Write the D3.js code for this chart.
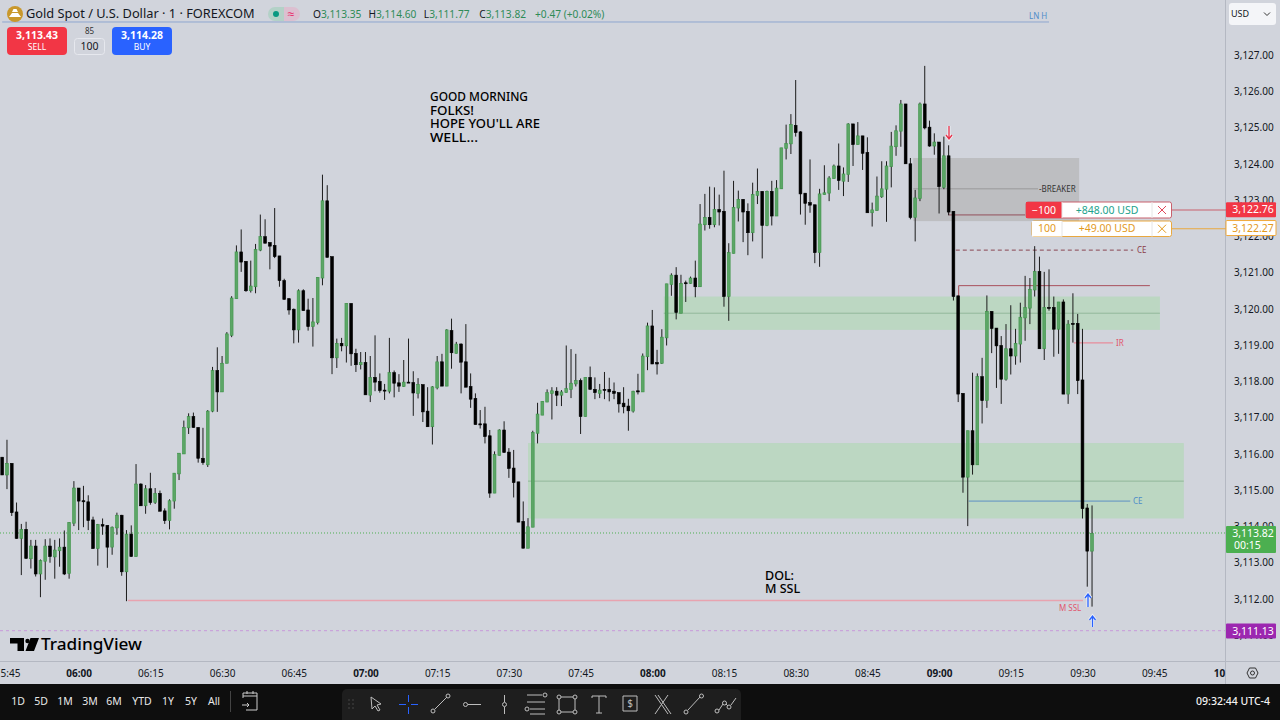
<!DOCTYPE html>
<html>
<head>
<meta charset="utf-8">
<script src="https://cdn.jsdelivr.net/npm/d3@7"></script>
<style>
  html, body { margin: 0; padding: 0; background: #d1d4dc; overflow: hidden; }
  svg { display: block; font-family: "Noto Sans", sans-serif; }
</style>
</head>
<body>
<svg id="chart" width="1280" height="720"></svg>
<script>
// 1 minute candles, first one is 05:44, last one 09:32
const opens = [
  3115.91,3115.42,3115.74,3114.40,3113.67,3113.92,3113.11,3113.46,3112.69,3113.04,
  3113.46,3113.16,3113.33,3113.43,3112.70,3114.09,3115.06,3114.71,3114.68,3114.18,
  3113.39,3114.05,3114.03,3113.43,3113.96,3114.31,3112.75,3113.79,3113.17,3115.17,
  3114.57,3115.04,3114.66,3114.91,3114.43,3114.16,3114.70,3115.45,3116.00,3116.72,
  3117.03,3116.73,3115.88,3115.70,3117.18,3118.30,3117.71,3118.50,3119.27,3120.28,
  3121.57,3121.31,3120.50,3120.61,3121.62,3121.99,3121.83,3121.75,3121.46,3120.78,
  3120.28,3119.99,3119.42,3120.50,3119.97,3119.51,3119.62,3120.85,3122.98,3121.44,
  3118.65,3119.05,3118.98,3120.15,3118.77,3118.46,3118.52,3117.62,3118.11,3118.00,
  3117.76,3117.73,3118.24,3117.96,3117.86,3117.98,3117.97,3117.67,3117.91,3117.18,
  3116.75,3117.82,3118.54,3117.87,3119.40,3118.77,3119.03,3118.54,3117.86,3117.53,
  3116.83,3116.83,3116.50,3114.92,3115.96,3116.66,3116.05,3115.61,3115.23,3114.14,
  3113.40,3113.98,3116.57,3117.07,3117.43,3117.67,3117.73,3117.62,3117.69,3117.78,
  3117.93,3118.02,3117.03,3118.11,3117.78,3117.67,3117.78,3117.78,3117.73,3117.69,
  3117.40,3117.32,3117.18,3117.74,3117.71,3118.68,3119.53,3118.52,3118.50,3119.20,
  3120.67,3120.93,3119.88,3120.72,3120.70,3120.85,3120.61,3122.32,3122.52,3122.32,
  3122.74,3122.69,3120.34,3121.53,3122.78,3123.02,3122.69,3122.10,3123.13,3123.24,
  3122.30,3123.24,3122.56,3123.31,3124.42,3124.55,3125.06,3124.88,3123.19,3122.93,
  3122.87,3121.55,3123.15,3123.19,3123.59,3123.94,3123.52,3123.70,3125.10,3124.53,
  3124.77,3124.31,3122.65,3122.71,3123.09,3123.30,3123.92,3124.47,3124.90,3125.65,
  3124.00,3122.52,3123.04,3125.65,3125.01,3124.49,3124.60,3123.35,3124.22,3122.69,
  3120.36,3117.67,3115.36,3116.64,3115.70,3118.13,3117.47,3119.93,3119.47,3118.99,
  3118.06,3118.90,3118.70,3119.03,3119.75,3120.02,3120.52,3121.03,3118.90,3120.04,
  3120.04,3119.44,3120.19,3117.65,3119.60,3119.60,3118.04,3114.51,3113.32
];
const highs = [
  3115.91,3116.39,3115.74,3114.66,3114.07,3114.13,3113.63,3113.63,3113.09,3113.65,
  3113.67,3113.63,3113.67,3113.89,3114.12,3115.25,3115.06,3115.12,3114.86,3114.27,
  3114.07,3114.22,3114.03,3114.00,3114.38,3114.32,3113.90,3114.03,3115.72,3115.19,
  3115.14,3115.48,3115.06,3114.99,3114.50,3114.75,3115.47,3116.02,3116.92,3117.12,
  3117.14,3116.73,3116.72,3117.21,3118.40,3118.94,3118.70,3119.36,3120.35,3121.75,
  3122.19,3121.31,3121.33,3121.79,3122.60,3122.47,3121.83,3122.78,3121.46,3120.83,
  3120.30,3120.01,3120.54,3120.54,3120.28,3120.30,3120.87,3123.70,3123.41,3121.44,
  3119.18,3119.20,3120.15,3120.15,3118.90,3118.81,3118.81,3118.70,3119.27,3118.22,
  3117.93,3119.20,3118.30,3118.20,3118.59,3119.18,3118.28,3118.09,3117.91,3117.84,
  3117.87,3118.70,3118.76,3119.44,3119.73,3119.09,3119.05,3119.58,3118.22,3117.67,
  3117.21,3117.30,3116.66,3116.07,3116.68,3116.90,3116.16,3116.11,3115.23,3114.69,
  3114.23,3116.64,3117.41,3117.45,3117.78,3117.84,3117.84,3117.76,3118.99,3118.89,
  3118.76,3118.08,3118.11,3118.41,3118.11,3117.93,3118.26,3118.10,3117.97,3117.69,
  3117.84,3117.52,3117.74,3118.21,3118.77,3119.62,3119.97,3118.87,3119.44,3120.69,
  3120.98,3121.15,3120.94,3120.78,3120.89,3121.33,3122.89,3123.17,3123.37,3123.35,
  3123.15,3123.81,3121.81,3123.53,3123.26,3123.02,3122.91,3123.48,3123.87,3123.24,
  3123.26,3123.53,3123.55,3124.44,3125.08,3125.37,3126.31,3124.90,3123.19,3124.12,
  3122.87,3123.31,3123.96,3123.66,3123.98,3124.56,3123.90,3125.12,3125.10,3125.15,
  3124.77,3124.73,3122.93,3123.65,3124.07,3124.07,3124.88,3125.06,3125.76,3125.65,
  3124.16,3123.28,3125.69,3126.70,3125.19,3124.84,3124.60,3124.75,3124.51,3122.69,
  3120.36,3117.67,3116.64,3118.24,3118.22,3118.65,3120.37,3119.93,3119.47,3119.25,
  3119.58,3120.10,3119.45,3120.17,3120.91,3120.85,3121.73,3121.44,3121.02,3121.09,
  3120.34,3120.19,3120.26,3119.69,3120.43,3119.86,3119.45,3114.62,3114.58
];
const lows = [
  3115.42,3115.03,3114.29,3113.66,3112.66,3113.11,3112.84,3112.62,3112.05,3112.53,
  3113.00,3112.56,3112.89,3112.66,3112.56,3114.01,3113.90,3113.98,3113.90,3113.39,
  3112.92,3113.77,3112.86,3113.22,3113.77,3112.64,3111.94,3113.17,3113.17,3114.57,
  3114.35,3114.60,3114.62,3114.42,3114.07,3113.92,3114.49,3115.28,3116.00,3116.55,
  3116.72,3115.76,3115.70,3115.64,3117.15,3117.16,3117.71,3118.50,3119.22,3120.28,
  3121.02,3120.47,3120.45,3120.43,3121.59,3121.81,3121.09,3121.40,3120.61,3120.26,
  3119.84,3119.05,3119.07,3119.95,3119.40,3118.96,3119.57,3120.65,3121.42,3118.20,
  3118.37,3118.83,3118.52,3118.43,3118.26,3118.33,3117.63,3117.43,3117.73,3117.69,
  3117.49,3117.67,3117.56,3117.71,3117.85,3117.97,3117.05,3117.53,3116.88,3116.75,
  3116.26,3117.78,3117.87,3117.87,3118.35,3118.77,3117.67,3117.84,3117.27,3116.81,
  3116.70,3116.29,3114.79,3114.92,3115.96,3116.04,3115.34,3114.80,3114.12,3113.40,
  3113.40,3113.98,3116.29,3117.07,3117.43,3116.95,3117.32,3117.32,3117.69,3117.54,
  3117.86,3116.55,3117.03,3117.78,3117.51,3117.54,3117.51,3117.45,3117.51,3117.14,
  3117.12,3116.64,3117.14,3117.64,3117.71,3118.31,3118.48,3118.19,3118.48,3118.99,
  3120.36,3119.71,3119.88,3120.19,3120.69,3120.32,3120.61,3122.16,3122.21,3122.25,
  3122.30,3120.06,3119.67,3121.53,3122.41,3121.84,3121.48,3121.86,3122.89,3121.39,
  3122.28,3122.30,3122.56,3123.31,3124.12,3124.27,3124.75,3122.60,3122.32,3122.65,
  3121.26,3121.16,3123.15,3122.97,3123.59,3123.28,3123.11,3123.50,3123.94,3124.53,
  3123.83,3122.65,3122.27,3122.71,3123.06,3122.40,3123.35,3124.22,3124.47,3124.00,
  3122.47,3121.86,3122.97,3124.95,3124.47,3124.25,3122.63,3123.30,3122.58,3120.23,
  3117.43,3114.93,3114.01,3115.43,3115.70,3116.84,3117.27,3118.78,3117.82,3117.38,
  3118.02,3118.19,3118.46,3118.52,3119.12,3119.58,3120.34,3118.90,3118.59,3119.95,
  3118.68,3118.76,3117.65,3117.38,3119.07,3117.65,3114.22,3112.34,3111.79
];
const closes = [
  3115.42,3115.74,3114.38,3113.67,3113.92,3113.12,3113.46,3112.69,3113.06,3113.46,
  3113.17,3113.35,3113.43,3112.69,3114.11,3115.06,3114.70,3114.68,3114.16,3113.39,
  3114.05,3114.01,3113.43,3113.98,3114.31,3112.75,3113.79,3113.17,3115.17,3114.57,
  3115.04,3114.66,3114.91,3114.42,3114.16,3114.71,3115.47,3116.02,3116.73,3117.03,
  3116.73,3115.88,3115.76,3117.18,3118.30,3117.71,3118.50,3119.31,3120.30,3121.57,
  3121.29,3120.50,3120.63,3121.64,3121.99,3121.81,3121.73,3121.44,3120.78,3120.26,
  3119.97,3119.42,3120.50,3119.95,3119.51,3119.64,3120.87,3122.98,3121.42,3118.65,
  3119.05,3118.98,3120.15,3118.76,3118.46,3118.52,3117.63,3118.11,3117.98,3117.75,
  3117.74,3118.24,3117.95,3117.87,3117.98,3117.97,3117.68,3117.91,3117.16,3116.75,
  3117.85,3118.54,3117.87,3119.42,3118.79,3119.03,3118.53,3117.84,3117.51,3116.81,
  3116.80,3116.48,3114.92,3115.98,3116.66,3116.04,3115.60,3115.21,3114.12,3113.40,
  3113.99,3116.59,3117.10,3117.45,3117.69,3117.74,3117.62,3117.71,3117.80,3117.95,
  3118.02,3117.03,3118.11,3117.78,3117.69,3117.76,3117.76,3117.71,3117.67,3117.38,
  3117.30,3117.19,3117.73,3117.71,3118.70,3119.53,3118.48,3118.48,3119.22,3120.69,
  3120.93,3119.90,3120.70,3120.70,3120.85,3120.61,3122.34,3122.52,3122.32,3122.74,
  3122.67,3120.34,3121.55,3122.80,3123.02,3122.67,3122.10,3123.15,3123.24,3122.30,
  3123.24,3122.56,3123.33,3124.44,3124.56,3125.08,3124.86,3123.17,3122.91,3122.86,
  3121.55,3123.17,3123.20,3123.61,3123.94,3123.54,3123.72,3125.10,3124.53,3124.77,
  3124.29,3122.65,3122.73,3123.11,3123.31,3123.94,3124.49,3124.91,3125.65,3124.00,
  3122.52,3123.06,3125.65,3124.99,3124.49,3124.60,3123.37,3124.22,3122.67,3120.34,
  3117.65,3115.36,3116.64,3115.70,3118.13,3117.47,3119.93,3119.46,3118.98,3118.06,
  3118.90,3118.70,3119.05,3119.77,3120.04,3120.54,3121.03,3118.90,3120.04,3120.02,
  3119.44,3120.19,3117.65,3119.58,3119.57,3118.02,3114.49,3113.32,3113.81
];

const priceTicks = d3.range(3111, 3128);
const timeTickBars = [1, 16, 31, 46, 61, 76, 91, 106, 121, 136, 151, 166, 181, 196, 211, 226, 241, 256];
const timeTickLabels = ['5:45', '06:00', '06:15', '06:30', '06:45', '07:00', '07:15', '07:30', '07:45',
  '08:00', '08:15', '08:30', '08:45', '09:00', '09:15', '09:30', '09:45', '10'];
const boldTimes = ['06:00', '07:00', '08:00', '09:00', '10'];

// zones and lines the trader drew: bar index from/to, prices
const zoneFrom = [138.4, 110, 190.6];
const zoneTo = [242.2, 247.2, 225.3];
const zoneTop = [3120.34, 3116.30, 3124.16];
const zoneBottom = [3119.42, 3114.22, 3122.42];
const zoneMid = [3119.88, 3115.25, 3123.31];

const lineFrom = [0, 26.3, 198, 199.5, 200.1, 224.2, 202.2];
const lineTo = [219, 226.1, 214, 236.6, 240.1, 232.4, 236];
const linePrice = [3127.91, 3111.96, 3122.59, 3121.62, 3120.64, 3119.06, 3114.70];

const lastPrice = 3113.82, alertPrice = 3111.13, tpPrice = 3122.76, entryPrice = 3122.27;

const svg = d3.select('#chart');
const barX = d3.scaleLinear().domain([0, 228]).range([2.2, 2.2 + 228 * 4.78]);
const priceY = d3.scaleLinear().domain([3127, 3112]).range([55, 599]);

const AXIS_X = 1225.5, AXIS_Y = 661;
const FILL_UP = '#5ca666', EDGE_UP = '#3e9449', INK = '#131722', WICK = '#1c1c1c';

// text helper, used all over the chrome
function label(parent, x, y, str, opts = {}) {
  const t = parent.append('text')
    .attr('x', x).attr('y', y)
    .attr('dy', '0.35em')
    .attr('font-size', opts.size || 11)
    .attr('font-weight', opts.weight || 400)
    .attr('text-anchor', opts.anchor || 'start')
    .attr('fill', opts.fill || INK)
    .text(str);
  if (opts.len) t.attr('textLength', opts.len).attr('lengthAdjust', 'spacingAndGlyphs');
  return t;
}

const plot = svg.append('g');

/* ── Drawn zones ── */
const zoneColors = ['rgba(139,222,137,0.3)', 'rgba(139,222,137,0.3)', 'rgba(146,143,137,0.32)'];
const zoneLines = ['rgba(90,140,100,0.42)', 'rgba(90,140,100,0.42)', 'rgba(120,120,120,0.5)'];
zoneFrom.forEach((f, i) => {
  plot.append('rect')
    .attr('x', barX(f)).attr('width', barX(zoneTo[i]) - barX(f))
    .attr('y', priceY(zoneTop[i])).attr('height', priceY(zoneBottom[i]) - priceY(zoneTop[i]))
    .attr('fill', zoneColors[i]);
  plot.append('line')
    .attr('x1', barX(f)).attr('x2', i === 2 ? 1038 : barX(zoneTo[i]))
    .attr('y1', priceY(zoneMid[i])).attr('y2', priceY(zoneMid[i]))
    .attr('stroke', zoneLines[i]);
});

/* ── Horizontal lines ── */
const lineColors = ['#8ea6cf', '#e8a3af', '#93505a', '#8a4653', '#a8505c', '#e78c9b', '#5d8fc4'];
const lineWidths = [1, 1.5, 1, 1, 1, 1.2, 1];
lineFrom.forEach((f, i) => {
  plot.append('line')
    .attr('x1', barX(f)).attr('x2', barX(lineTo[i]))
    .attr('y1', priceY(linePrice[i])).attr('y2', priceY(linePrice[i]))
    .attr('stroke', lineColors[i]).attr('stroke-width', lineWidths[i])
    .attr('stroke-dasharray', i === 3 ? '4 3' : null);
});
// small hooks where the two red lines start
plot.append('line').attr('x1', barX(198)).attr('x2', barX(198))
  .attr('y1', priceY(tpPrice)).attr('y2', priceY(linePrice[2])).attr('stroke', lineColors[2]);
plot.append('line').attr('x1', barX(200.1)).attr('x2', barX(200.1))
  .attr('y1', priceY(linePrice[4])).attr('y2', priceY(3120.34)).attr('stroke', lineColors[4]);

// last price and alert lines
plot.append('line').attr('x1', 0).attr('x2', AXIS_X)
  .attr('y1', priceY(lastPrice)).attr('y2', priceY(lastPrice))
  .attr('stroke', '#4caf50').attr('stroke-dasharray', '1 2');
plot.append('line').attr('x1', 0).attr('x2', AXIS_X)
  .attr('y1', priceY(alertPrice)).attr('y2', priceY(alertPrice))
  .attr('stroke', '#c9a4da').attr('stroke-width', 1.3).attr('stroke-dasharray', '3 3');

/* ── Candles ── */
const bars = d3.range(opens.length);
plot.selectAll('.wick').data(bars).join('line')
  .attr('class', 'wick')
  .attr('x1', barX).attr('x2', barX)
  .attr('y1', i => priceY(highs[i])).attr('y2', i => priceY(lows[i]))
  .attr('stroke', WICK).attr('stroke-width', 1);
plot.selectAll('.body').data(bars).join('rect')
  .attr('class', 'body')
  .attr('x', i => barX(i) - 1.4).attr('width', 2.8)
  .attr('y', i => priceY(Math.max(opens[i], closes[i])))
  .attr('height', i => Math.max(1, Math.abs(priceY(opens[i]) - priceY(closes[i]))))
  .attr('fill', i => closes[i] >= opens[i] ? FILL_UP : '#000')
  .attr('stroke', i => closes[i] >= opens[i] ? EDGE_UP : '#000')
  .attr('stroke-width', 0.6);

/* ── Annotations on the chart ── */
const greetLines = ['GOOD MORNING', 'FOLKS!', "HOPE YOU'LL ARE", 'WELL...'];
const greetLens = [98, 44, 110, 48];
greetLines.forEach((s, i) =>
  label(plot, 430, 97 + i * 13.4, s, { size: 12.5, weight: 500, fill: '#000', len: greetLens[i] }));
['DOL:', 'M SSL'].forEach((s, i) =>
  label(plot, 765, 576 + i * 13, s, { size: 12.5, weight: 500, fill: '#000' }));
label(plot, 1039, 189, '-BREAKER', { size: 8, fill: '#333' });
label(plot, 1137, 250, 'CE', { size: 8, fill: '#8a3b4a' });
label(plot, 1116, 343, 'IR', { size: 8, fill: '#e0566c' });
label(plot, 1133, 501, 'CE', { size: 8, fill: '#4f8cc9' });
label(plot, 1059, 608, 'M SSL', { size: 8, fill: '#e0566c' });
label(plot, 1029, 16, 'LN H', { size: 8, fill: '#4f8cc9' });

function arrow(x, y0, y1, color) {
  const dir = y1 > y0 ? -1 : 1;
  const d = `M${x},${y0}L${x},${y1}M${x - 3},${y1 + dir * 4}L${x},${y1}L${x + 3},${y1 + dir * 4}`;
  plot.append('path').attr('d', d).attr('fill', 'none').attr('stroke', '#eef0f4').attr('stroke-width', 3);
  plot.append('path').attr('d', d).attr('fill', 'none').attr('stroke', color).attr('stroke-width', 1.3);
}
arrow(949, 126, 139, '#e8304a');
arrow(1088, 607, 594, '#2962ff');
arrow(1092.5, 627, 616, '#2962ff');

/* ── Axes ── */
svg.append('rect').attr('x', AXIS_X).attr('y', 0).attr('width', 1280 - AXIS_X).attr('height', AXIS_Y).attr('fill', '#d1d4dc');
svg.append('line').attr('x1', AXIS_X).attr('x2', AXIS_X).attr('y1', 0).attr('y2', 684).attr('stroke', '#b4b8c2');
svg.append('line').attr('x1', 0).attr('x2', 1280).attr('y1', AXIS_Y + 0.5).attr('y2', AXIS_Y + 0.5).attr('stroke', '#b4b8c2');

const yAxis = d3.axisRight(priceY).tickValues(priceTicks).tickSize(0).tickPadding(0).tickFormat(d3.format(',.2f'));
svg.append('g').attr('transform', 'translate(1234,0)').call(yAxis)
  .call(g => g.select('.domain').remove())
  .call(g => g.selectAll('text').attr('font-size', 10).attr('font-family', '"Noto Sans", sans-serif').attr('fill', INK));

const timeX = d3.axisBottom(barX).tickValues(timeTickBars).tickSize(0).tickPadding(0)
  .tickFormat((d, i) => timeTickLabels[i]);
svg.append('g').attr('transform', `translate(0,${AXIS_Y + 8.5})`).call(timeX)
  .call(g => g.select('.domain').remove())
  .call(g => g.selectAll('text')
    .attr('font-size', 10).attr('font-family', '"Noto Sans", sans-serif').attr('fill', INK)
    .attr('font-weight', (d, i) => boldTimes.includes(timeTickLabels[i]) ? 700 : 400))
  // the first label sits against the left edge
  .call(g => g.selectAll('text').filter((d, i) => i === 0).attr('text-anchor', 'start').attr('x', -barX(1)))
  .call(g => g.selectAll('text').filter((d, i) => i === timeTickLabels.length - 1).attr('x', -7));

// settings hexagon
svg.append('path').attr('d', 'M1247,673l2.5,-5h6l2.5,5l-2.5,5h-6z').attr('fill', 'none').attr('stroke', '#333');
svg.append('circle').attr('cx', 1252.5).attr('cy', 673).attr('r', 2).attr('fill', 'none').attr('stroke', '#333');

/* ── Price labels ── */
function priceTag(y, h, fill, stroke, text, color) {
  svg.append('rect').attr('x', 1226).attr('y', y).attr('width', 50).attr('height', h).attr('rx', 1)
    .attr('fill', fill).attr('stroke', stroke);
  return label(svg, 1253, y + 7.5, text, { size: 10.5, anchor: 'middle', fill: color });
}
priceTag(priceY(tpPrice) - 6.5, 15, '#f23645', 'none', d3.format(',.2f')(tpPrice), '#fff');
priceTag(priceY(entryPrice) - 6, 15, '#fff', '#f0a93a', d3.format(',.2f')(entryPrice), '#e39a1d');
priceTag(526, 27, '#4caf50', 'none', d3.format(',.2f')(lastPrice), '#fff').attr('y', 533);
label(svg, 1234, 545, '00:15', { size: 10.5, fill: '#fff' });
priceTag(623.5, 15, '#9c27b0', 'none', d3.format(',.2f')(alertPrice), '#fff');

/* ── Order widgets ── */
function orderRow(x, y, h, tagW, tagFill, tagText, tagColor, profit, color, border, cross) {
  svg.append('line').attr('x1', 1170).attr('x2', 1226).attr('y1', y + h / 2).attr('y2', y + h / 2).attr('stroke', border);
  svg.append('rect').attr('x', x).attr('y', y).attr('width', 1171.5 - x).attr('height', h).attr('rx', 2)
    .attr('fill', '#fff').attr('stroke', border);
  svg.append('rect').attr('x', x).attr('y', y).attr('width', tagW).attr('height', h).attr('fill', tagFill);
  svg.append('line').attr('x1', x + tagW).attr('x2', x + tagW).attr('y1', y).attr('y2', y + h).attr('stroke', '#e6e6e6');
  svg.append('line').attr('x1', 1152).attr('x2', 1152).attr('y1', y).attr('y2', y + h).attr('stroke', '#e6e6e6');
  label(svg, x + tagW / 2, y + h / 2, tagText, { size: 10.5, anchor: 'middle', fill: tagColor });
  label(svg, 1107, y + h / 2, profit, { size: 10.5, anchor: 'middle', fill: color });
  svg.append('path').attr('d', `M1158,${y + h / 2 - 4}l8,8m0,-8l-8,8`).attr('stroke', cross).attr('stroke-width', 1);
}
orderRow(1026, 202, 16, 36, '#f23645', '\u2212100', '#fff', '+848.00 USD', '#22a28c', '#c9606c', '#e0485a');
orderRow(1032, 221, 15.5, 30, '#fff', '100', '#e39a1d', '+49.00 USD', '#e39a1d', '#e9a83f', '#e39a1d');

/* ── Header ── */
svg.append('circle').attr('cx', 15).attr('cy', 14).attr('r', 8).attr('fill', '#c9982c');
svg.append('path').attr('d', 'M9,17l3,-4h6l3,4z M12,12l1.5,-3h3l1.5,3z').attr('fill', '#fff');
label(svg, 26, 14, 'Gold Spot / U.S. Dollar \u00b7 1 \u00b7 FOREXCOM', { size: 12.8 });
svg.append('path').attr('d', 'M275,7h9v14h-9a7,7 0 0 1 0,-14z').attr('fill', '#b3d1c7');
svg.append('path').attr('d', 'M284,7h9a7,7 0 0 1 0,14h-9z').attr('fill', '#dcbfd0');
svg.append('circle').attr('cx', 276).attr('cy', 14).attr('r', 3).attr('fill', '#089981');
label(svg, 291, 14, '\u2248', { size: 12, anchor: 'middle', fill: '#e91e63' });

const ohlcNames = ['O', 'H', 'L', 'C'];
const ohlcValues = ['3,113.35', '3,114.60', '3,111.77', '3,113.82'];
ohlcNames.forEach((n, i) => {
  const t = label(svg, 313 + i * 55.4, 14, n, { size: 10.2 });
  t.append('tspan').attr('fill', '#2e8b57').text(ohlcValues[i]);
});
label(svg, 535, 14, '+0.47 (+0.02%)', { size: 10.2, fill: '#2e8b57' });

/* ── Buy / sell ── */
svg.append('rect').attr('x', 7).attr('y', 27).attr('width', 60).attr('height', 28).attr('rx', 4).attr('fill', '#f23645');
label(svg, 37, 35.5, '3,113.43', { size: 10.5, weight: 700, anchor: 'middle', fill: '#fff' });
label(svg, 37, 47.5, 'SELL', { size: 8.5, anchor: 'middle', fill: '#fff' });
label(svg, 89.5, 31, '85', { size: 8, anchor: 'middle', fill: '#333' });
svg.append('rect').attr('x', 74.5).attr('y', 38.5).attr('width', 30).attr('height', 16).attr('rx', 3)
  .attr('fill', 'none').attr('stroke', '#e6e8ee');
label(svg, 89.5, 46.5, '100', { size: 10.5, anchor: 'middle' });
svg.append('rect').attr('x', 112).attr('y', 27).attr('width', 60).attr('height', 28).attr('rx', 4).attr('fill', '#2962ff');
label(svg, 142, 35.5, '3,114.28', { size: 10.5, weight: 700, anchor: 'middle', fill: '#fff' });
label(svg, 142, 47.5, 'BUY', { size: 8.5, anchor: 'middle', fill: '#fff' });

// currency selector
svg.append('rect').attr('x', 1229).attr('y', 3).attr('width', 47).attr('height', 22).attr('rx', 3).attr('fill', '#f4f5f8');
label(svg, 1231, 14, 'USD', { size: 9 });
svg.append('path').attr('d', 'M1264,12.5l3,3l3,-3').attr('fill', 'none').attr('stroke', '#333');

/* ── TradingView logo ── */
svg.append('path').attr('d', 'M10,638h14v13h-6.5v-7.5h-7.5z M25.5,651l5,-13h8.5l-5,13z').attr('fill', '#000');
svg.append('circle').attr('cx', 27.5).attr('cy', 641).attr('r', 2.2).attr('fill', '#000');
label(svg, 41, 644, 'TradingView', { size: 17, weight: 500, fill: '#000', len: 101 });

/* ── Bottom bar ── */
svg.append('rect').attr('x', 0).attr('y', 684).attr('width', 1280).attr('height', 36).attr('fill', '#0e0e0e');
const rangeNames = ['1D', '5D', '1M', '3M', '6M', 'YTD', '1Y', '5Y', 'All'];
const rangeXs = [18, 41, 65, 90, 114, 142, 168, 191, 214];
rangeNames.forEach((n, i) => label(svg, rangeXs[i], 701, n, { size: 10.5, anchor: 'middle', fill: '#e8e8e8' }));
svg.append('line').attr('x1', 230.5).attr('x2', 230.5).attr('y1', 691).attr('y2', 712).attr('stroke', '#444');
svg.append('path').attr('d', 'M243,698v-5h14v17h-11M243,696h14M247,691v3M253,691v3M242,705h7m-2,-2l2,2l-2,2')
  .attr('fill', 'none').attr('stroke', '#ccc');
label(svg, 1270, 701, '09:32:44 UTC-4', { size: 10.5, anchor: 'end', fill: '#f2f2f2', weight: 500 });

// drawing toolbar
svg.append('rect').attr('x', 342).attr('y', 689).attr('width', 399).attr('height', 40).attr('rx', 5).attr('fill', '#1e1e1e');
const toolColor = '#bdbdbd';
const toolIcons = [
  ['M371,697l10,7l-4,1l3,5l-2,1l-3,-5l-3,3z', toolColor],
  ['M399,704.5h7m5,0h7M408.5,695v7m0,5v7', '#2962ff'],
  ['M435,709l12,-12', toolColor],
  ['M468,704.5h13', toolColor],
  ['M504.5,695v7m0,5v7', toolColor],
  ['M527,695h15M527,702h18M530,709h15M530,714h15', toolColor],
  ['M561,697h12M561,712h12M559,699v11M575,699v11', toolColor],
  ['M592,698v-2h14v2M599,696v17M596,713h6', toolColor],
  ['M623,696h14v15h-14z', toolColor],
  ['M655,695l13,19M668,695l-13,19M658,695l13,19', toolColor],
  ['M688,710l12,-13', toolColor],
  ['M719,710l4,-6M726,704l2,2M731,705l5,-7', toolColor]
];
toolIcons.forEach(([d, c]) => svg.append('path').attr('d', d).attr('fill', 'none').attr('stroke', c));
// end handles on the tools
const handleX = [433, 448, 465.5, 504.5, 545, 527, 559, 575, 559, 575, 686, 701.5, 717, 724.5, 729];
const handleY = [711, 696, 704.5, 704.5, 695, 709, 697, 697, 712, 712, 712, 696, 711, 703, 707];
svg.selectAll('.handle').data(handleX).join('circle')
  .attr('class', 'handle')
  .attr('cx', d => d).attr('cy', (d, i) => handleY[i])
  .attr('r', 2).attr('fill', 'none').attr('stroke', toolColor);
label(svg, 630, 703, '$', { size: 10, anchor: 'middle', fill: toolColor });
svg.selectAll('.grip').data(d3.range(6)).join('circle')
  .attr('class', 'grip')
  .attr('cx', i => 349 + (i % 2) * 4).attr('cy', i => 700 + Math.floor(i / 2) * 4)
  .attr('r', 0.7).attr('fill', '#555');
</script>
</body>
</html>
